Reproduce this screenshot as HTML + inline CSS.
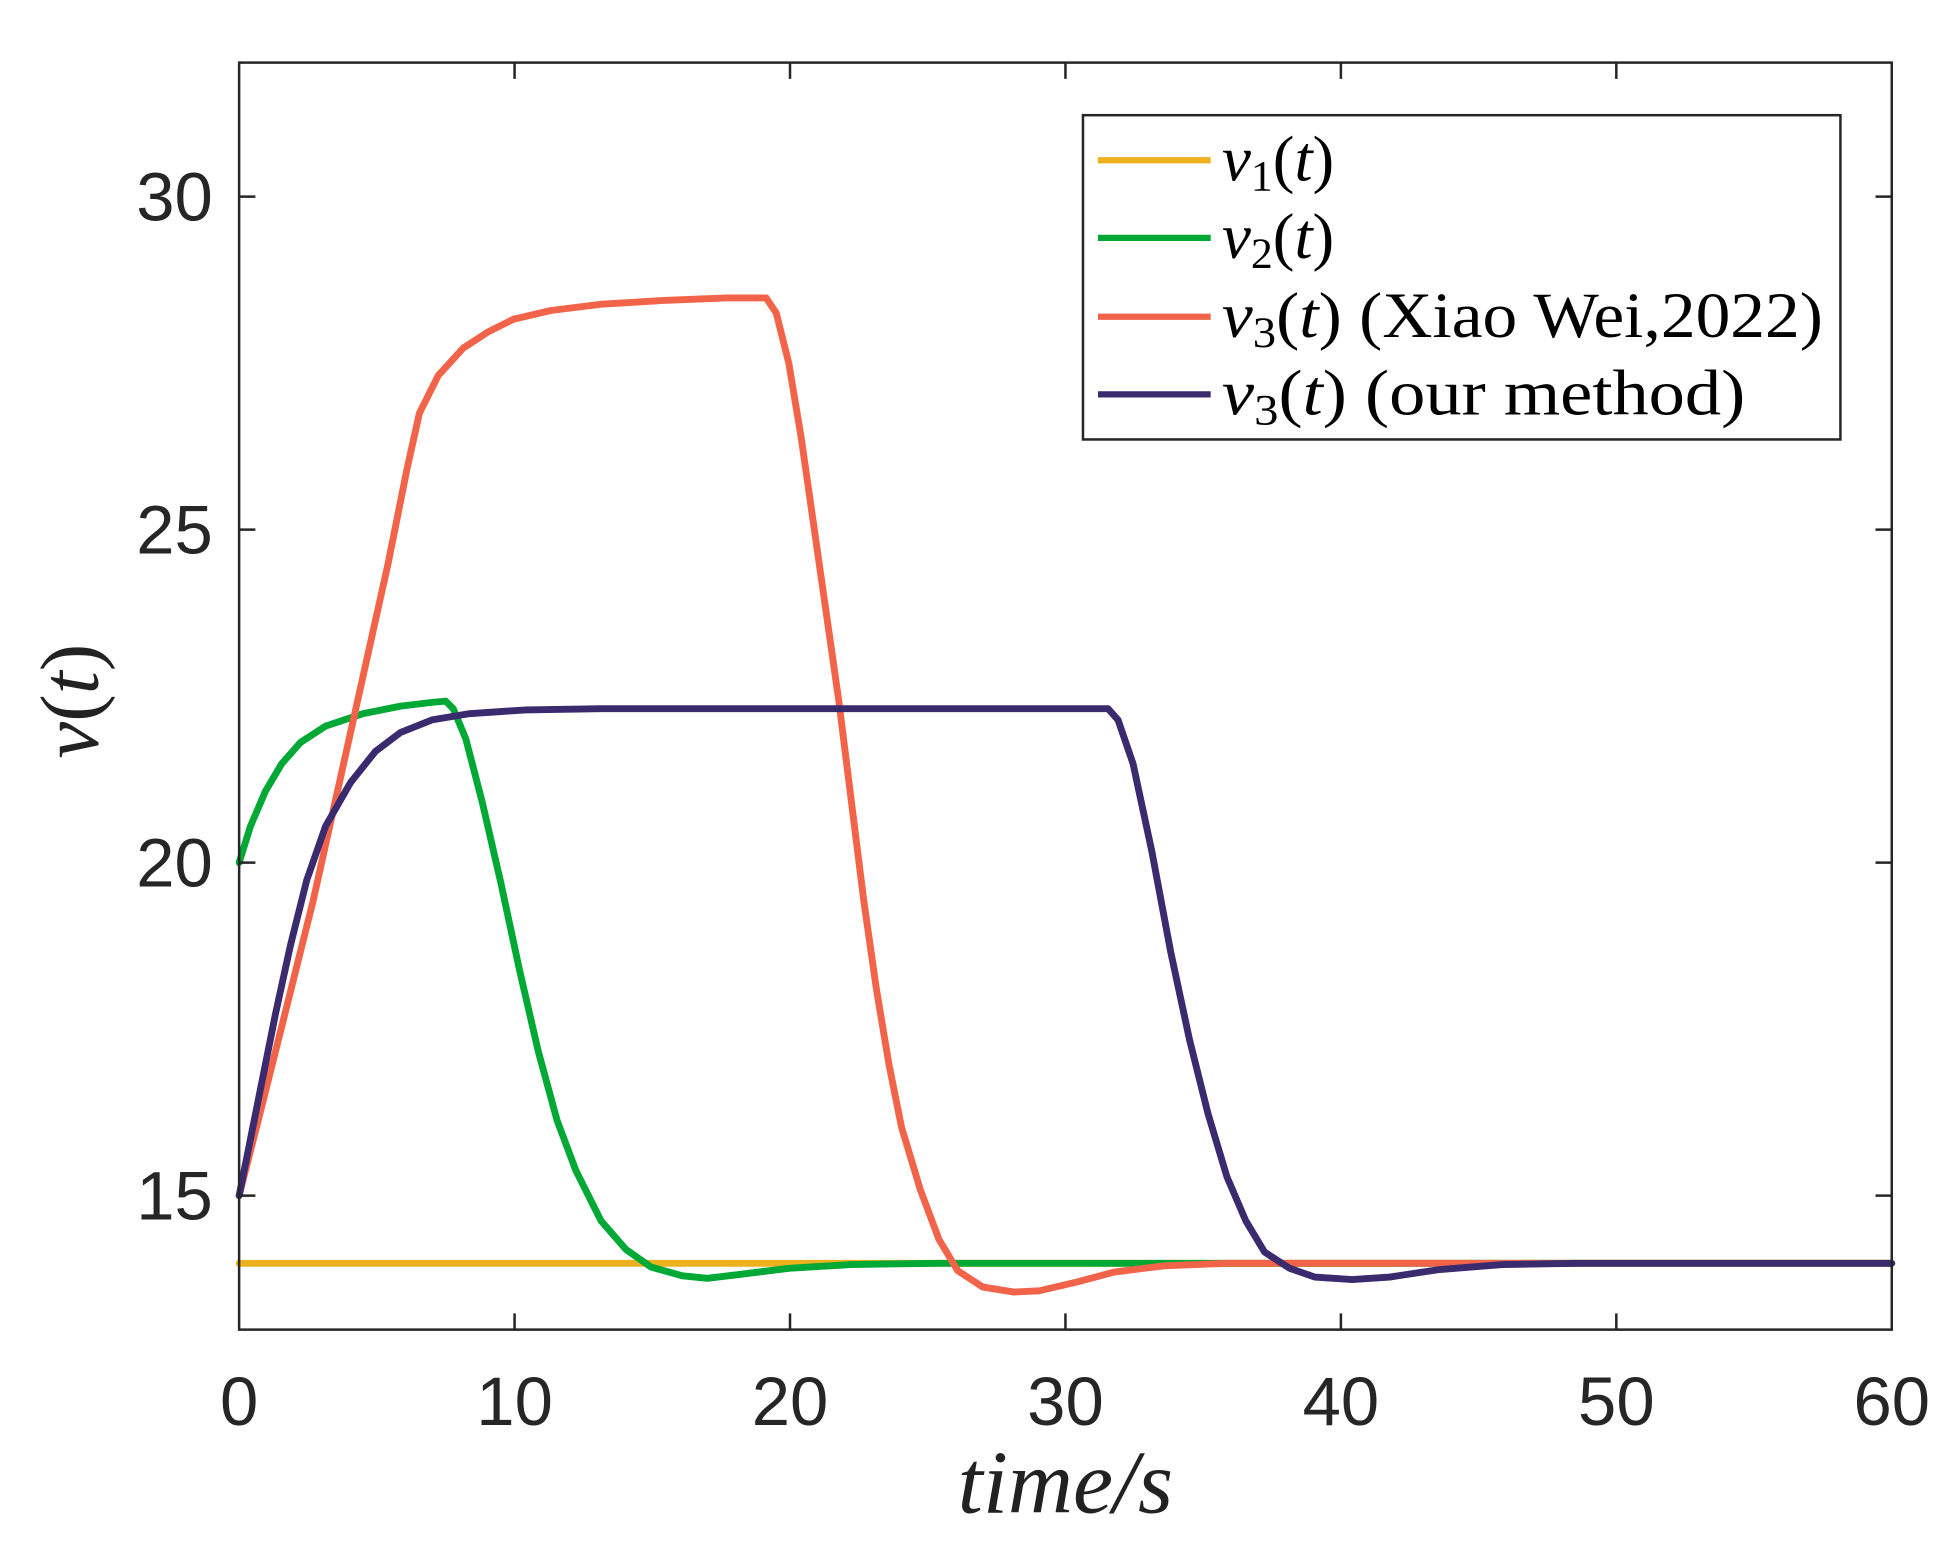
<!DOCTYPE html>
<html><head><meta charset="utf-8"><style>html,body{margin:0;padding:0;background:#fff}svg{display:block}</style></head>
<body>
<svg width="1959" height="1561" viewBox="0 0 1564.7 1246.8" xmlns="http://www.w3.org/2000/svg">
<rect width="1564.7" height="1246.8" fill="#fff"/>
<g fill="none" stroke-width="5.5" stroke-linejoin="round" stroke-linecap="round">
<polyline stroke="#EDB120" points="191,1009 1511,1009"/>
<polyline stroke="#00A835" points="191,689 200,660 212,632 225,610 240,593 260,580 290,570 320,564 345,561 356,560 362,566 372,590 385,640 400,705 415,775 430,840 445,895 460,935 480,975 500,998 520,1012 545,1019 565,1021 590,1018 630,1013 680,1010 750,1009 1511,1009"/>
<polyline stroke="#F2644A" points="191,955 210,880 230,800 250,720 270,630 290,540 310,450 325,375 335,330 350,300 370,278 390,265 410,255 440,248 480,243 530,240 580,238 612,238 620,250 630,290 640,350 650,420 660,490 670,560 680,640 690,720 700,790 710,850 720,900 735,950 750,990 765,1015 785,1028 810,1032 830,1031 860,1024 890,1016 930,1011 980,1009 1511,1009"/>
<polyline stroke="#3A2A6E" points="191,955 205,885 220,810 232,755 245,703 260,660 280,625 300,600 320,585 345,575 375,570 420,567 480,566 550,566 885,566 893,575 905,610 920,680 935,760 950,830 965,890 980,940 995,975 1010,1000 1030,1013 1050,1020 1080,1022 1110,1020 1150,1014 1200,1010 1260,1009 1511,1009"/>
</g>
<g stroke="#262626" stroke-width="2" fill="none">
<rect x="191" y="50" width="1320" height="1012"/>
<path d="M411,1062v-13M631,1062v-13M851,1062v-13M1071,1062v-13M1291,1062v-13M411,50v13M631,50v13M851,50v13M1071,50v13M1291,50v13M191,157h13M191,423h13M191,689h13M191,955h13M1511,157h-13M1511,423h-13M1511,689h-13M1511,955h-13"/>
</g>
<g font-family="Liberation Sans, sans-serif" font-size="55" fill="#262626">
<g text-anchor="end"><text x="170" y="176">30</text><text x="170" y="442">25</text><text x="170" y="708">20</text><text x="170" y="974">15</text></g>
<g text-anchor="middle"><text x="191" y="1138">0</text><text x="411" y="1138">10</text><text x="631" y="1138">20</text><text x="851" y="1138">30</text><text x="1071" y="1138">40</text><text x="1291" y="1138">50</text><text x="1511" y="1138">60</text></g>
</g>
<g font-family="Liberation Serif, serif" fill="#222">
<text x="851" y="1208" font-size="72" font-style="italic" text-anchor="middle">time/s</text>
<text transform="translate(78,560) rotate(-90)" font-size="66" text-anchor="middle"><tspan font-style="italic">v</tspan>(<tspan font-style="italic">t</tspan>)</text>
</g>
<rect x="865" y="92" width="605" height="259" fill="#fff" stroke="#262626" stroke-width="2"/>
<g stroke-width="5">
<line x1="877" y1="128" x2="967" y2="128" stroke="#EDB120"/>
<line x1="877" y1="190" x2="967" y2="190" stroke="#00A835"/>
<line x1="877" y1="253" x2="967" y2="253" stroke="#F2644A"/>
<line x1="877" y1="315" x2="967" y2="315" stroke="#3A2A6E"/>
</g>
<g font-family="Liberation Serif, serif" font-size="52" fill="#000">
<text x="976" y="144"><tspan font-style="italic">v</tspan><tspan font-size="35" dy="8">1</tspan><tspan dy="-8">(</tspan><tspan font-style="italic">t</tspan>)</text>
<text x="976" y="206"><tspan font-style="italic">v</tspan><tspan font-size="35" dy="8">2</tspan><tspan dy="-8">(</tspan><tspan font-style="italic">t</tspan>)</text>
<text x="976" y="269" textLength="480" lengthAdjust="spacingAndGlyphs"><tspan font-style="italic">v</tspan><tspan font-size="35" dy="8">3</tspan><tspan dy="-8">(</tspan><tspan font-style="italic">t</tspan>) (Xiao Wei,2022)</text>
<text x="976" y="331" textLength="418" lengthAdjust="spacingAndGlyphs"><tspan font-style="italic">v</tspan><tspan font-size="35" dy="8">3</tspan><tspan dy="-8">(</tspan><tspan font-style="italic">t</tspan>) (our method)</text>
</g>
</svg>
</body></html>
